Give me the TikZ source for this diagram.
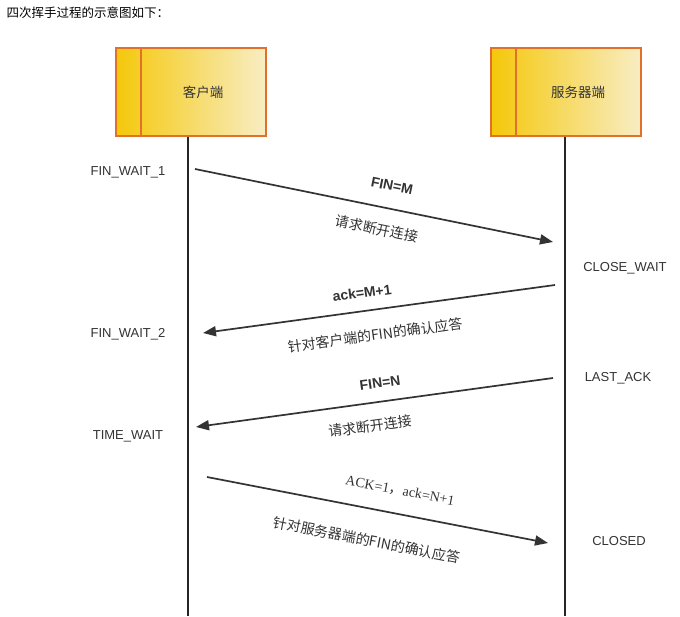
\documentclass[tikz,border=0pt]{standalone}
\usepackage{fontspec}
\setmainfont{Liberation Sans}
\newfontfamily\cjk{Noto Sans CJK SC}
\newfontfamily\serifx{Liberation Serif}
\definecolor{boxline}{HTML}{E0702A}
\definecolor{ylw}{HTML}{F5C80A}
\definecolor{pale}{HTML}{F8EDC4}
\definecolor{txt}{HTML}{333333}
\usetikzlibrary{arrows.meta}
\tikzset{
  hbox/.style={draw=boxline,line width=2pt,left color=ylw,right color=pale},
  life/.style={line width=1.5pt,black!85},
  msg/.style={line width=1.7pt,black!80,-{Triangle[length=13pt,width=10pt]}},
  st/.style={font=\fontsize{13}{15}\selectfont,text=txt},
  lbl/.style={font=\cjk\fontsize{14}{16}\selectfont,text=txt,inner sep=1pt},
  bl/.style={font=\bfseries\fontsize{14}{16}\selectfont,text=txt,inner sep=1pt},
}
\begin{document}
\begin{tikzpicture}[x=1pt,y=-1pt]
\useasboundingbox[fill=white] (0,0) rectangle (680,616);
\node[anchor=west,font=\cjk\fontsize{12.5}{14}\selectfont] (hdr) at (3,13) {四次挥手过程的示意图如下：};
% boxes
\draw[hbox] (116,48) rectangle (266,136);
\draw[boxline,line width=2pt] (141,48) -- (141,136);
\node[font=\cjk\fontsize{13.5}{15}\selectfont,text=txt] (c) at (203,92) {客户端};
\draw[hbox] (491,48) rectangle (641,136);
\draw[boxline,line width=2pt] (516,48) -- (516,136);
\node[font=\cjk\fontsize{13.5}{15}\selectfont,text=txt] (s) at (578,92) {服务器端};
\coordinate (ct) at (188,137); \coordinate (cb) at (188,616);
\coordinate (stp) at (565,137); \coordinate (sb) at (565,616);
\draw[life] (ct) -- (cb);
\draw[life] (stp) -- (sb);
% states
\node[st] (f1) at (128,172) {FIN\_WAIT\_1};
\node[st] (cw) at (625,268) {CLOSE\_WAIT};
\node[st] (f2) at (128,334) {FIN\_WAIT\_2};
\node[st] (la) at (618,378) {LAST\_ACK};
\node[st] (tw) at (128,436) {TIME\_WAIT};
\node[st] (cl) at (619,541) {CLOSED};
% messages
\coordinate (a1) at (195,169); \coordinate (b1) at (553,242);
\draw[msg] (a1) -- (b1);
\node[rotate=-11.5,bl] (m1) at (392,186) {FIN=M};
\node[rotate=-11.5,lbl] (m1b) at (377,229) {请求断开连接};
\coordinate (a2) at (555,285); \coordinate (b2) at (203,333);
\draw[msg] (a2) -- (b2);
\node[rotate=7.8,bl] (m2) at (362,293) {ack=M+1};
\node[rotate=7.8,lbl] (m2b) at (375,335) {针对客户端的FIN的确认应答};
\coordinate (a3) at (553,378); \coordinate (b3) at (196,427);
\draw[msg] (a3) -- (b3);
\node[rotate=7.8,bl] (m3) at (380,383) {FIN=N};
\node[rotate=7.8,lbl] (m3b) at (370,426) {请求断开连接};
\coordinate (a4) at (207,477); \coordinate (b4) at (548,543);
\draw[msg] (a4) -- (b4);
\node[rotate=-11,font=\serifx\fontsize{14}{16}\selectfont,text=txt,inner sep=1pt] (m4) at (400,491) {ACK=1{\cjk ，}ack=N+1};
\node[rotate=-11,lbl] (m4b) at (367,540) {针对服务器端的FIN的确认应答};
\end{tikzpicture}
\end{document}
